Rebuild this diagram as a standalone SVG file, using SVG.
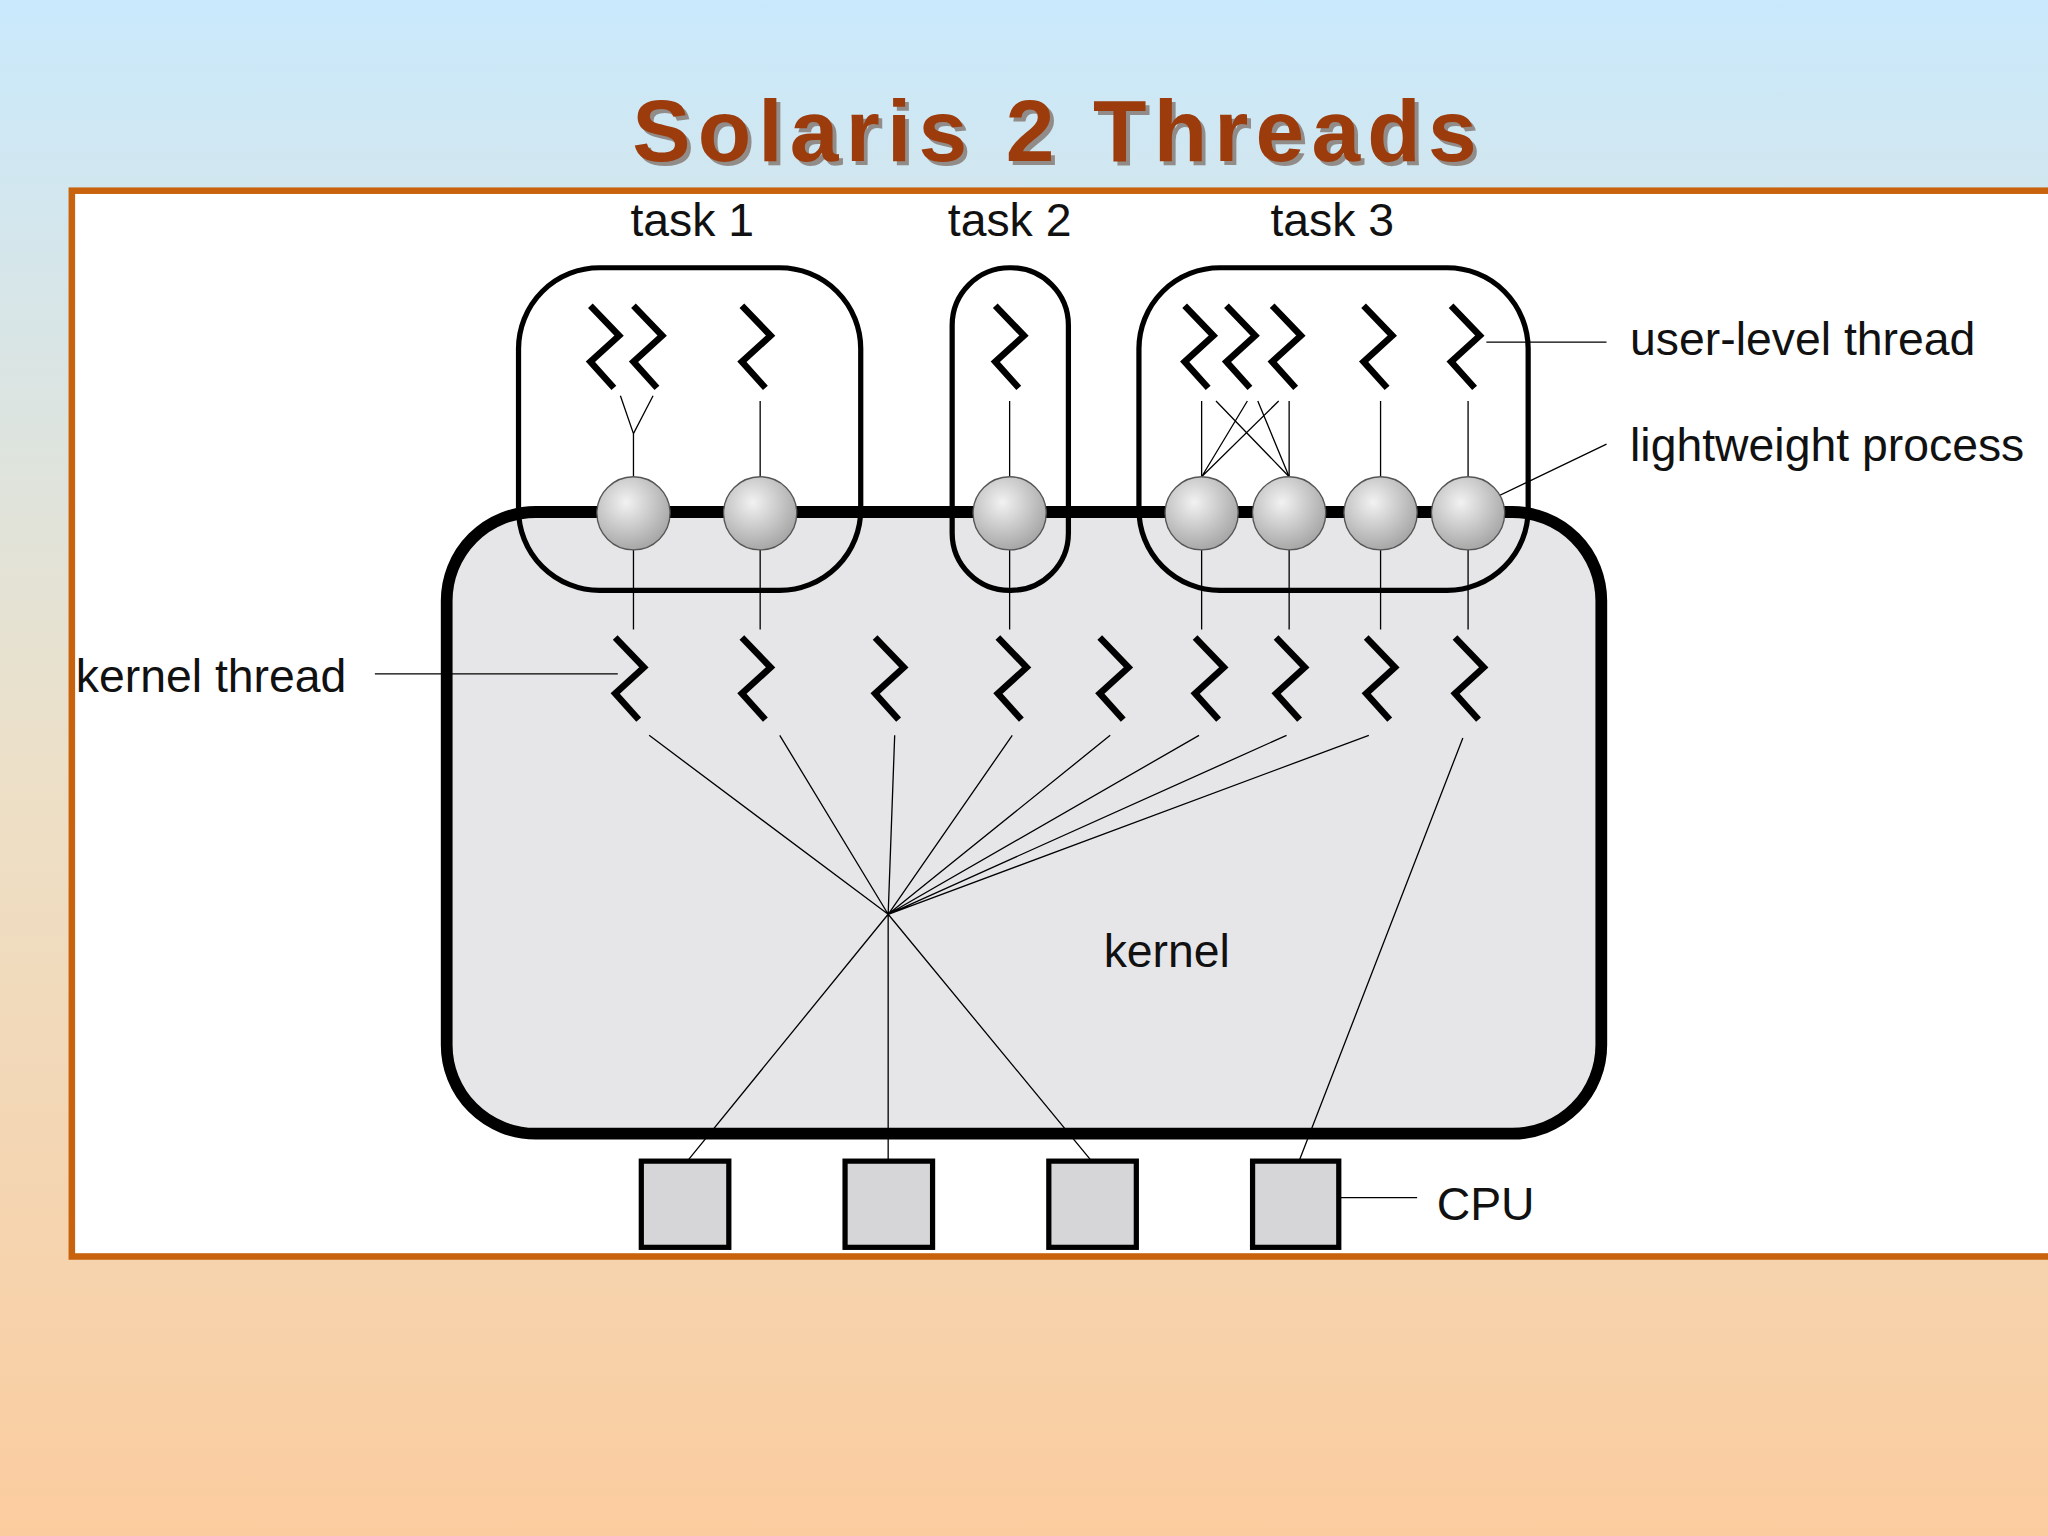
<svg xmlns="http://www.w3.org/2000/svg" width="2048" height="1536" viewBox="0 0 2048 1536">
<defs>
<linearGradient id="bg" x1="0" y1="0" x2="0" y2="1"><stop offset="0" stop-color="#c9e9fc"/><stop offset="0.5" stop-color="#ece0c8"/><stop offset="1" stop-color="#fbcc9e"/></linearGradient>
<radialGradient id="ball" cx="0.4" cy="0.35" r="0.65"><stop offset="0" stop-color="#f2f2f2"/><stop offset="1" stop-color="#a8a8a8"/></radialGradient>
<path id="zz" d="M0,0 L22,23 L0,43 L18,63" fill="none" stroke="#000" stroke-width="5"/>
</defs>
<style>
.t{font-family:"Liberation Sans",Arial,sans-serif;font-size:35.5px;fill:#111}
.thin{stroke:#000;stroke-width:1;fill:none}
.box{fill:none;stroke:#000;stroke-width:4}
.cpu{fill:#d6d6d8;stroke:#000;stroke-width:4}
</style>
<rect width="2048" height="1536" fill="url(#bg)"/>
<g transform="scale(1.30612)">
<g id="title" font-family="Liberation Sans,Arial,sans-serif" font-weight="bold" font-size="67" letter-spacing="5.5" text-anchor="middle">
<text x="813" y="126" fill="#553322" opacity="0.5">Solaris 2 Threads</text>
<text x="810" y="123" fill="#9c3b0b">Solaris 2 Threads</text>
</g>
<rect id="panel" x="55" y="146" width="1530" height="816" fill="#fff" stroke="#c8620c" stroke-width="5"/>
<g id="kernel"><rect x="342" y="392" width="884" height="476" rx="68" fill="#e6e6e8" stroke="#000" stroke-width="9"/>
<text class="t" x="845" y="740">kernel</text></g>
<g id="task1"><rect class="box" x="397" y="205" width="262" height="247" rx="62"/><text class="t" x="530" y="181" text-anchor="middle">task 1</text></g>
<g id="task2"><rect class="box" x="729" y="205" width="89" height="247" rx="44"/><text class="t" x="773" y="181" text-anchor="middle">task 2</text></g>
<g id="task3"><rect class="box" x="872" y="205" width="298" height="247" rx="62"/><text class="t" x="1020" y="181" text-anchor="middle">task 3</text></g>
<g id="connectors" class="thin">
<path d="M475,303 L485,332 L500,303 M485,332 V365 M582,307V365 M773,307V365 M920,307V365 M987,307V365 M1057,307V365 M1124,307V365"/>
<path d="M931,307 L987,365 M963,307 L987,365 M955,307 L920,365 M979,307 L920,365"/>
<path d="M485,420V482 M582,420V482 M773,420V482 M920,420V482 M987,420V482 M1057,420V482 M1124,420V482"/>
<path d="M497,563L680,700 M597,563L680,700 M685,563L680,700 M775,563L680,700 M850,563L680,700 M918,563L680,700 M985,563L680,700 M1048,563L680,700"/>
<path d="M680,700L527,888 M680,700L680,888 M680,700L835,888 M1120,565L995,888"/>
<path d="M1138,262H1230 M1130,388L1230,340 M287,516H473 M1003,917H1085"/>
</g>
<g id="user-threads">
<use href="#zz" x="452" y="234"/><use href="#zz" x="485" y="234"/><use href="#zz" x="568" y="234"/>
<use href="#zz" x="762" y="234"/>
<use href="#zz" x="907" y="234"/><use href="#zz" x="939" y="234"/><use href="#zz" x="974" y="234"/><use href="#zz" x="1044" y="234"/><use href="#zz" x="1111" y="234"/>
</g>
<g id="lwps" fill="url(#ball)" stroke="#555" stroke-width="1">
<circle cx="485" cy="393" r="28"/><circle cx="582" cy="393" r="28"/><circle cx="773" cy="393" r="28"/><circle cx="920" cy="393" r="28"/><circle cx="987" cy="393" r="28"/><circle cx="1057" cy="393" r="28"/><circle cx="1124" cy="393" r="28"/>
</g>
<g id="kernel-threads">
<use href="#zz" x="471" y="488"/><use href="#zz" x="568" y="488"/><use href="#zz" x="670" y="488"/><use href="#zz" x="764" y="488"/><use href="#zz" x="842" y="488"/><use href="#zz" x="915" y="488"/><use href="#zz" x="977" y="488"/><use href="#zz" x="1046" y="488"/><use href="#zz" x="1114" y="488"/>
</g>
<g id="cpus">
<rect class="cpu" x="491" y="889" width="67" height="66"/><rect class="cpu" x="647" y="889" width="67" height="66"/><rect class="cpu" x="803" y="889" width="67" height="66"/><rect class="cpu" x="959" y="889" width="66" height="66"/>
</g>
<g id="labels">
<text class="t" x="1248" y="272">user-level thread</text>
<text class="t" x="1248" y="353">lightweight process</text>
<text class="t" x="58" y="530">kernel thread</text>
<text class="t" x="1100" y="934">CPU</text>
</g>
</g>
</svg>
